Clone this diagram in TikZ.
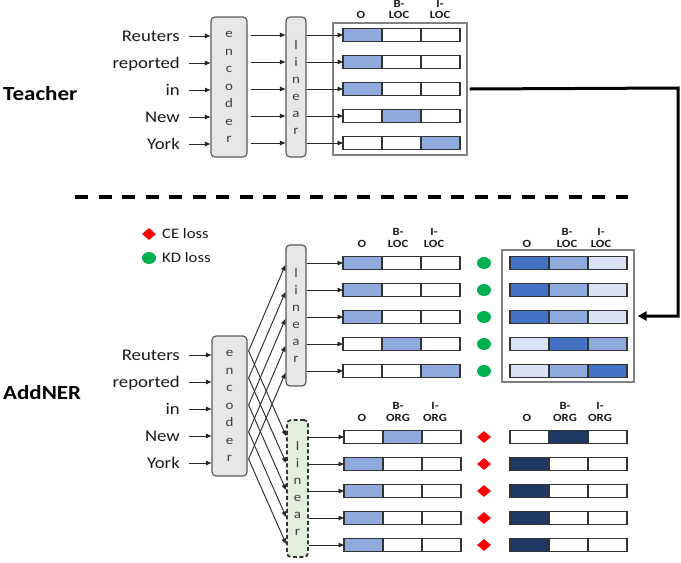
\documentclass[tikz,border=0pt]{standalone}
\usepackage{fontspec}
\setmainfont{Carlito}[FakeStretch=1.15]
\usetikzlibrary{arrows.meta,shapes.geometric}
\definecolor{med}{HTML}{8FAADC}
\definecolor{dk}{HTML}{4472C4}
\definecolor{lt}{HTML}{DAE3F3}
\definecolor{navy}{HTML}{203864}
\definecolor{encfill}{HTML}{E7E7E7}
\definecolor{encline}{HTML}{5A5A5A}
\definecolor{grnfill}{HTML}{E2EFDA}
\definecolor{bord}{HTML}{333333}
\definecolor{boxline}{HTML}{808080}
\definecolor{kdgreen}{HTML}{00B050}
\definecolor{cered}{HTML}{FF0000}
\tikzset{
  cell/.style={draw=bord, line width=1.1pt, minimum width=39pt, minimum height=13pt, inner sep=0pt, outer sep=0pt},
  word/.style={anchor=east, font=\fontsize{16.3}{18}\selectfont, text height=11pt, text depth=0pt, inner sep=0pt, text=black!90},
  encbox/.style={draw=encline, fill=encfill, rounded corners=4pt, line width=1.2pt, inner sep=0pt, align=center, font=\fontsize{13}{17.5}\selectfont, text=black!75},
  linbox/.style={encbox, font=\fontsize{13}{17}\selectfont},
  newlin/.style={draw=bord, fill=grnfill, rounded corners=4pt, line width=1.8pt, dash pattern=on 4pt off 2.5pt, inner sep=0pt, align=center, font=\fontsize{13}{17}\selectfont, text=black!75},
  arr/.style={-{Triangle[length=5.5pt,width=4.5pt]}, line width=0.9pt, draw=black!85},
  hdr/.style={font=\bfseries\fontsize{11}{11.5}\selectfont, align=center, inner sep=0pt, text=black!90},
  outbox/.style={draw=boxline, line width=1.3pt, inner sep=0pt},
  kd/.style={ellipse, fill=kdgreen, minimum width=14pt, minimum height=12pt, inner sep=0pt},
  ce/.style={diamond, fill=cered, minimum width=14pt, minimum height=12pt, inner sep=0pt},
  lbl/.style={font=\bfseries\fontsize{20}{22}\selectfont, anchor=west, inner sep=0pt, text=black},
  legend/.style={font=\fontsize{14.5}{16}\selectfont, anchor=west, inner sep=0pt, text=black!90},
  bigarr/.style={line width=3pt, -{Triangle[length=9pt,width=9pt]}},
}
\begin{document}
\begin{tikzpicture}[x=1pt,y=-1pt]
\useasboundingbox (0,0) rectangle (681,563);

% ---------------- Teacher ----------------
\node[lbl] (teacher) at (3,94) {Teacher};
\node[outbox, minimum width=134pt, minimum height=132pt] (tbox) at (400,89) {};
\foreach \r/\y/\a/\b/\c in {1/35/med/white/white,2/62/med/white/white,3/89/med/white/white,4/116/white/med/white,5/143/white/white/med}{
  \node[cell,fill=\a] (t\r a) at (362.5,\y) {};
  \node[cell,fill=\b] (t\r b) at (401.5,\y) {};
  \node[cell,fill=\c] (t\r c) at (440.5,\y) {};
}
\node[hdr] (thO) at (361,15) {O};
\node[hdr] (thB) at (399,9.5) {B-\\LOC};
\node[hdr] (thI) at (440,9.5) {I-\\LOC};

\node[encbox, minimum width=36pt, minimum height=140pt] (tenc) at (229,87) {e\\n\\c\\o\\d\\e\\r};
\node[linbox, minimum width=20pt, minimum height=140pt] (tlin) at (296,87) {l\\i\\n\\e\\a\\r};

\foreach \k/\w/\y in {1/Reuters/36,2/reported/63,3/in/90,4/New/117,5/York/144}{
  \node[word] (tw\k) at (180,\y) {\w};
  \draw[arr] ([xshift=9pt]tw\k.east) -- (tenc.west |- tw\k.east);
  \draw[arr] ([xshift=3pt]tenc.east |- t\k a) -- (tlin.west |- t\k a);
  \draw[arr] (tlin.east |- t\k a) -- (t\k a.west);
}

% thick connector teacher -> student soft targets
\coordinate (corner) at (678,88);

% divider
\coordinate (dashL) at (75,197);
\coordinate (dashR) at (628,197);
\draw[line width=3.5pt, dash pattern=on 13pt off 10.5pt] (dashL) -- (dashR);

% ---------------- Legend ----------------
\node[ce] (legce) at (149,234) {};
\node[legend] (legcet) at (162,234) {CE loss};
\node[kd] (legkd) at (149,258) {};
\node[legend] (legkdt) at (162,258) {KD loss};

% ---------------- AddNER ----------------
\node[lbl] (addner) at (3,393) {AddNER};

% student top cells
\foreach \r/\y/\a/\b/\c in {1/263/med/white/white,2/290/med/white/white,3/317/med/white/white,4/344/white/med/white,5/371/white/white/med}{
  \node[cell,fill=\a] (s\r a) at (362.5,\y) {};
  \node[cell,fill=\b] (s\r b) at (401.5,\y) {};
  \node[cell,fill=\c] (s\r c) at (440.5,\y) {};
  \node[kd] (kd\r) at (484,\y) {};
}
\node[hdr] (shO) at (362,244) {O};
\node[hdr] (shB) at (398,238) {B-\\LOC};
\node[hdr] (shI) at (434,238) {I-\\LOC};

% teacher soft labels box
\node[outbox, minimum width=132pt, minimum height=132pt] (rbox) at (568,316) {};
\foreach \r/\y/\a/\b/\c in {1/263/dk/med/lt,2/290/dk/med/lt,3/317/dk/med/lt,4/344/lt/dk/med,5/371/lt/med/dk}{
  \node[cell,fill=\a] (r\r a) at (529.5,\y) {};
  \node[cell,fill=\b] (r\r b) at (568.5,\y) {};
  \node[cell,fill=\c] (r\r c) at (607.5,\y) {};
}
\node[hdr] (rhO) at (527,244) {O};
\node[hdr] (rhB) at (567,238) {B-\\LOC};
\node[hdr] (rhI) at (601,238) {I-\\LOC};

\draw[bigarr] ([xshift=2pt]tbox.east) -- (corner) |- ([xshift=3pt]rbox.east);

% student bottom cells
\foreach \r/\y/\a/\b/\c in {1/437/white/med/white,2/464/med/white/white,3/491/med/white/white,4/518/med/white/white,5/545/med/white/white}{
  \node[cell,fill=\a] (b\r a) at (363.5,\y) {};
  \node[cell,fill=\b] (b\r b) at (402.5,\y) {};
  \node[cell,fill=\c] (b\r c) at (441.5,\y) {};
  \node[ce] (ce\r) at (484,\y) {};
}
\foreach \r/\y/\a/\b/\c in {1/437/white/navy/white,2/464/navy/white/white,3/491/navy/white/white,4/518/navy/white/white,5/545/navy/white/white}{
  \node[cell,fill=\a] (g\r a) at (529.5,\y) {};
  \node[cell,fill=\b] (g\r b) at (568.5,\y) {};
  \node[cell,fill=\c] (g\r c) at (607.5,\y) {};
}
\node[hdr] (bhO) at (362,418) {O};
\node[hdr] (bhB) at (398,412) {B-\\ORG};
\node[hdr] (bhI) at (435,412) {I-\\ORG};
\node[hdr] (ghO) at (527,418) {O};
\node[hdr] (ghB) at (565,412) {B-\\ORG};
\node[hdr] (ghI) at (600,412) {I-\\ORG};

% student encoder and linears
\node[encbox, minimum width=35pt, minimum height=140pt] (senc) at (229.5,406) {e\\n\\c\\o\\d\\e\\r};
\node[linbox, minimum width=20pt, minimum height=141pt] (slin) at (296,315.5) {l\\i\\n\\e\\a\\r};
\node[newlin, minimum width=21pt, minimum height=137pt] (blin) at (297.5,488.5) {l\\i\\n\\e\\a\\r};

\foreach \k/\w/\y in {1/Reuters/355,2/reported/382,3/in/409,4/New/436,5/York/463}{
  \node[word] (sw\k) at (180,\y) {\w};
  \draw[arr] ([xshift=9pt]sw\k.east) -- (senc.west |- sw\k.east);
  \draw[arr] ([xshift=1pt,yshift=4pt]senc.east |- sw\k.east) -- ([yshift=-2pt]slin.west |- s\k a);
  \draw[arr] ([xshift=1pt,yshift=4pt]senc.east |- sw\k.east) -- ([yshift=1pt]blin.west |- b\k a);
  \draw[arr] (slin.east |- s\k a) -- (s\k a.west);
  \draw[arr] (blin.east |- b\k a) -- (b\k a.west);
}
\end{tikzpicture}
\end{document}
